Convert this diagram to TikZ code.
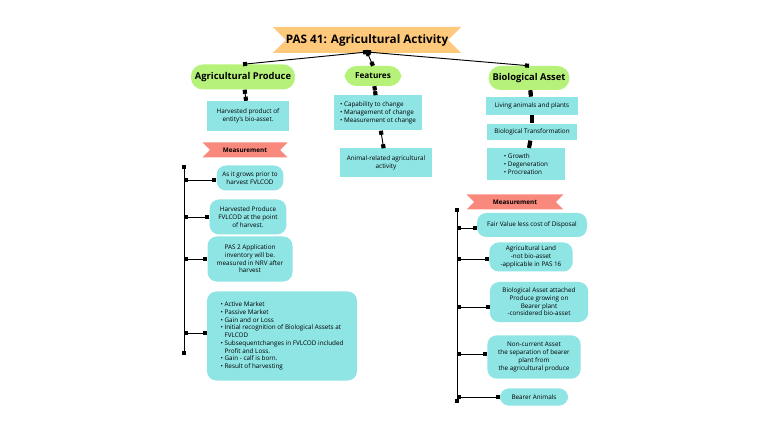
\documentclass[tikz,border=0pt]{standalone}
\usepackage{fontspec}
\setmainfont{Open Sans}
\usetikzlibrary{shapes.symbols, arrows.meta, positioning}
\definecolor{bannerorange}{HTML}{FFC97C}
\definecolor{leafgreen}{HTML}{B6F27A}
\definecolor{aqua}{HTML}{8FE4E4}
\definecolor{salmon}{HTML}{F9897C}
\tikzset{
    banner/.style={
        signal, signal to=nowhere, signal from=west and east,
        fill=#1, draw=none, inner sep=0pt
    },
    head/.style={
        rectangle, rounded corners=10pt, fill=leafgreen, draw=none,
        font=\bfseries\footnotesize
    },
    note/.style={
        rectangle, fill=aqua, draw=none, align=center, inner sep=2pt,
        font=\fontsize{5.4}{6.6}\selectfont
    },
    pill/.style={
        note, rounded corners=8pt
    },
    link/.style={
        thick, {Square[length=3.5pt,width=3.5pt]}-{Square[length=3.5pt,width=3.5pt]}
    },
    bus/.style={
        thick
    },
}
\newcommand{\bul}{\textbullet\ }
\begin{document}
\begin{tikzpicture}[x=0.03cm, y=-0.03cm]
\useasboundingbox (0,0) rectangle (768,433);

% Title
\node[banner=bannerorange, minimum width=5.4cm, minimum height=0.78cm,
      font=\bfseries\normalsize] (title) at (367,40) {PAS 41: Agricultural Activity};
\coordinate (hub) at (367,52);

% Heads
\node[head, minimum width=2.95cm, minimum height=0.75cm] (prod) at (243,77) {Agricultural Produce};
\node[head, minimum width=1.7cm, minimum height=0.6cm, font=\bfseries\scriptsize] (feat) at (373,76) {Features};
\node[head, minimum width=2.3cm, minimum height=0.72cm] (bio) at (529,78) {Biological Asset};

\draw[link] (hub) -- (prod.north);
\draw[link] (hub) -- (feat.north);
\draw[link] (hub) -- (bio.north);

% Agricultural Produce
\node[note, minimum width=2.45cm, minimum height=0.9cm] (harv) at (248,116)
    {Harvested product of\\entity's bio-asset.};
\draw[link] (prod) -- (harv);
\node[banner=salmon, minimum width=2.55cm, minimum height=0.45cm,
      font=\bfseries\fontsize{5.4}{6}\selectfont] (measL) at (245,150) {Measurement};

\node[pill, minimum width=2cm, minimum height=0.75cm] (grow) at (250,178)
    {As it grows prior to\\harvest FVLCOD};
\node[pill, minimum width=2.3cm, minimum height=1.05cm] (point) at (248,217)
    {Harvested Produce\\FVLCOD at the point\\of harvest.};
\node[pill, minimum width=2.55cm, minimum height=1.35cm] (pas2) at (250,259)
    {PAS 2 Application\\inventory will be.\\measured in NRV after\\harvest};
\node[pill, minimum width=4.5cm, minimum height=2.67cm, align=left] (market) at (282,336)
    {\bul Active Market\\\bul Passive Market\\\bul Gain and or Loss\\
     \bul Initial recognition of Biological Assets at\\\phantom{\bul}FVLCOD\\
     \bul Subsequentchanges in FVLCOD included\\\phantom{\bul}Profit and Loss.\\
     \bul Gain - calf is born.\\\bul Result of harvesting};

\coordinate (busLtop) at (184,165);
\coordinate (busLbot) at (184,355);
\draw[bus, {Square[length=3.5pt,width=3.5pt]}-{Square[length=3.5pt,width=3.5pt]}] (busLtop) -- (busLbot);
\foreach \n/\y in {grow/180, point/217, pas2/259, market/333} {
    \coordinate (l\n) at (184,\y);
    \draw[link] (l\n) -- (\n.west |- l\n);
}

% Features
\node[note, minimum width=2.65cm, minimum height=1.05cm, align=left] (chg) at (378,113)
    {\bul Capability to change\\\bul Management of change\\\bul Measurement ot change};
\node[note, minimum width=2.75cm, minimum height=0.87cm] (animal) at (386,163)
    {Animal-related agricultural\\activity};
\draw[link] (feat) -- (chg);
\draw[link] (chg) -- (animal);

% Biological Asset
\node[note, minimum width=2.75cm, minimum height=0.55cm] (living) at (532,106)
    {Living animals and plants};
\node[note, minimum width=2.7cm, minimum height=0.5cm] (trans) at (532,132)
    {Biological Transformation};
\node[note, minimum width=2.35cm, minimum height=0.95cm, align=left] (stages) at (526,164)
    {\bul Growth\\\bul Degeneration\\\bul Procreation};
\draw[link] (bio) -- (living);
\draw[link] (living) -- (trans);
\draw[link] (trans) -- (stages);

\node[banner=salmon, minimum width=2.9cm, minimum height=0.45cm,
      font=\bfseries\fontsize{5.4}{6}\selectfont] (measR) at (515,202) {Measurement};

\node[pill, minimum width=3.3cm, minimum height=0.72cm] (fair) at (532,225)
    {Fair Value less cost of Disposal};
\node[pill, minimum width=2.5cm, minimum height=0.87cm] (land) at (531,257)
    {Agricultural Land\\-not bio-asset\\-applicable in PAS 16};
\node[pill, minimum width=2.95cm, minimum height=1.2cm] (attach) at (539,302)
    {Biological Asset attached\\Produce growing on\\Bearer plant\\-considered bio-asset};
\node[pill, minimum width=2.8cm, minimum height=1.3cm] (noncur) at (534,357)
    {Non-current Asset\\the separation of bearer\\plant from\\the agricultural produce};
\node[pill, minimum width=2.05cm, minimum height=0.52cm] (bearer) at (534,397)
    {Bearer Animals};

\coordinate (busRtop) at (457,208);
\coordinate (busRbot) at (457,403);
\draw[bus, {Square[length=3.5pt,width=3.5pt]}-{Square[length=3.5pt,width=3.5pt]}] (busRtop) -- (busRbot);
\foreach \n/\y in {fair/228, land/259, attach/307, noncur/354, bearer/397} {
    \coordinate (r\n) at (457,\y);
    \draw[link] (r\n) -- (\n.west |- r\n);
}

\end{tikzpicture}
\end{document}
